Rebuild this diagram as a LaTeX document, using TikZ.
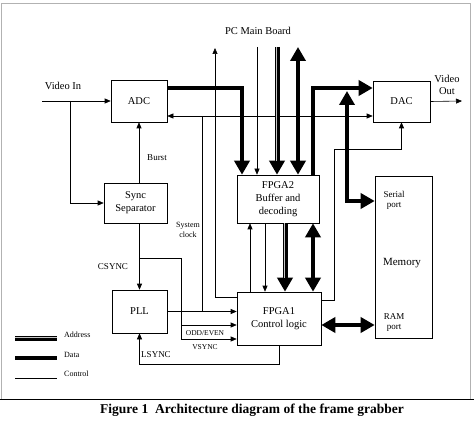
\documentclass[tikz,border=0pt]{standalone}
\usepackage{fontspec}
\setmainfont{Liberation Serif}
\usetikzlibrary{arrows.meta}
\tikzset{
  block/.style={draw, line width=0.6pt, align=center, inner sep=0pt, font=\fontsize{10.5}{13}\selectfont},
  txt/.style={inner sep=0pt, align=center, font=\fontsize{9}{10.5}\selectfont},
  bigtxt/.style={txt, font=\fontsize{10.5}{11.5}\selectfont},
  tinytxt/.style={txt, font=\fontsize{7.5}{9}\selectfont},
  ctrl/.style={line width=0.6pt},
  data/.style={line width=4pt},
  addr/.style={line width=5pt, postaction={draw=gray!45, line width=2.8pt, arrows=-, shorten >=#1}, postaction={draw=black, line width=0.8pt, arrows=-, shorten >=#1}},
  addr/.default=14pt,
  big/.tip={Triangle[length=14pt,width=15pt]},
  >={Triangle[length=6pt,width=5pt]}
}
\begin{document}
\begin{tikzpicture}[x=1pt,y=-1pt]
\useasboundingbox (0,0) rectangle (474,422);
\draw[gray!60, line width=0.8pt] (1.5,3) rectangle (470,399.5);
\draw[line width=1.2pt] (0,399.5) -- (474,399.5);
\node[block, minimum width=56pt, minimum height=42pt] (adc) at (139,101) {ADC};
\node[block, minimum width=57pt, minimum height=41pt] (dac) at (401.5,101.5) {DAC};
\node[block, minimum width=63pt, minimum height=40pt] (sync) at (135.5,203) {Sync\\Separator};
\node[block, minimum width=82pt, minimum height=48pt] (fpgatwo) at (278,199) {FPGA2\\Buffer and\\decoding};
\node[block, minimum width=84pt, minimum height=53pt] (fpgaone) at (279,318.5) {FPGA1\\Control logic};
\node[block, minimum width=55pt, minimum height=43pt] (pll) at (139.5,311.5) {PLL};
\node[block, minimum width=57pt, minimum height=162pt] (mem) at (403.5,257) {};
\coordinate (vin) at (42,101);
\coordinate (vsplit) at (70,101);
\coordinate (vout) at (462,101);
\coordinate (clk) at (202,116);
\coordinate (pcup) at (215,48);
\coordinate (pcup2) at (215,297);
\coordinate (pcctl) at (257,47);
\coordinate (pcaddr) at (277,47);
\coordinate (pcdata) at (298,47);
\coordinate (adcout) at (242,88);
\coordinate (dacin) at (313,88);
\coordinate (serial) at (347,91);
\coordinate (serial2) at (347,201);
\coordinate (dacctl) at (334,149);
\coordinate (fctl) at (334,300);
\coordinate (csync) at (139.5,258);
\coordinate (oddeven) at (181,325);
\coordinate (vsync) at (181,339);
\coordinate (lsync) at (139.5,364);
\coordinate (ctlup) at (250,260);
\coordinate (ctldown) at (265,260);
\coordinate (addrdown) at (285,260);
\coordinate (databus) at (313,260);
\coordinate (ramport) at (350,325);
\coordinate (keya) at (15,338);
\coordinate (keyae) at (57,338);
\coordinate (keyd) at (15,358);
\coordinate (keyde) at (57,358);
\coordinate (keyc) at (15,378);
\coordinate (keyce) at (57,378);
\draw[ctrl,->] (vin) -- (adc.west);
\draw[ctrl,->] (vsplit) |- (sync.west);
\draw[ctrl,->] (dac.east) -- (vout);
\draw[ctrl,->] (adc.south |- sync.north) -- (adc.south);
\draw[ctrl,->] (pll.north |- sync.south) -- (pll.north);
\draw[ctrl] (csync) -| (vsync);
\draw[ctrl,->] (oddeven) -- (oddeven -| fpgaone.west);
\draw[ctrl,->] (vsync) -- (vsync -| fpgaone.west);
\draw[ctrl,->] (pll.east) -- (pll.east -| fpgaone.west);
\draw[ctrl] (clk |- pll.east) -- (clk);
\draw[ctrl,->] (clk) -- (clk -| adc.east);
\draw[ctrl,->] (clk) -- (clk -| dac.west);
\draw[ctrl,->] (pcup2 -| fpgaone.west) -| (pcup);
\draw[ctrl,->] (pcctl) -- (pcctl |- fpgatwo.north);
\draw[addr,-big] (pcaddr) -- (pcaddr |- fpgatwo.north);
\draw[data,big-big] (pcdata) -- (pcdata |- fpgatwo.north);
\draw[data,-big] (adcout -| adc.east) -| (adcout |- fpgatwo.north);
\draw[data,-big] (dacin |- fpgatwo.north) |- (dacin -| dac.west);
\draw[data,big-big] (serial) |- (serial2 -| mem.west);
\draw[ctrl,->] (fctl -| fpgaone.east) -| (dacctl) -| (dac.south);
\draw[ctrl,->] (fpgaone.north -| ctlup) -- (fpgatwo.south -| ctlup);
\draw[ctrl,->] (fpgatwo.south -| ctldown) -- (fpgaone.north -| ctldown);
\draw[addr,-big] (fpgatwo.south -| addrdown) -- (fpgaone.north -| addrdown);
\draw[data,big-big] (fpgatwo.south -| databus) -- (fpgaone.north -| databus);
\draw[data,big-big] (ramport -| fpgaone.east) -- (ramport -| mem.west);
\draw[ctrl,->] (fpgaone.south) |- (lsync) -- (pll.south);
\draw[addr=0pt] (keya) -- (keyae);
\draw[data] (keyd) -- (keyde);
\draw[ctrl] (keyc) -- (keyce);
\node[bigtxt] (pcmb) at (258,31) {PC Main Board};
\node[bigtxt] (videoin) at (63,86) {Video In};
\node[bigtxt] (videoout) at (447,85) {Video\\Out};
\node[txt] (burst) at (157,158) {Burst};
\node[txt, font=\fontsize{8}{10}\selectfont] (sysclk) at (188,230) {System\\clock};
\node[txt] (csynctxt) at (113,267) {CSYNC};
\node[tinytxt] (oetxt) at (205,333) {ODD/EVEN};
\node[tinytxt] (vstxt) at (205,347) {VSYNC};
\node[txt] (lstxt) at (156,355) {LSYNC};
\node[txt] (sptxt) at (394,200.5) {Serial\\port};
\node[txt, font=\fontsize{11}{13}\selectfont] (memtxt) at (402,263) {Memory};
\node[txt] (rptxt) at (394,322.5) {RAM\\port};
\node[txt, font=\fontsize{8}{10}\selectfont, anchor=west] (keyatxt) at (64,335) {Address};
\node[txt, font=\fontsize{8}{10}\selectfont, anchor=west] (keydtxt) at (64,355) {Data};
\node[txt, font=\fontsize{8}{10}\selectfont, anchor=west] (keyctxt) at (64,374) {Control};
\node[txt, font=\bfseries\fontsize{13.5}{15}\selectfont] (caption) at (252,410) {Figure 1\ \ Architecture diagram of the frame grabber};
\end{tikzpicture}
\end{document}
